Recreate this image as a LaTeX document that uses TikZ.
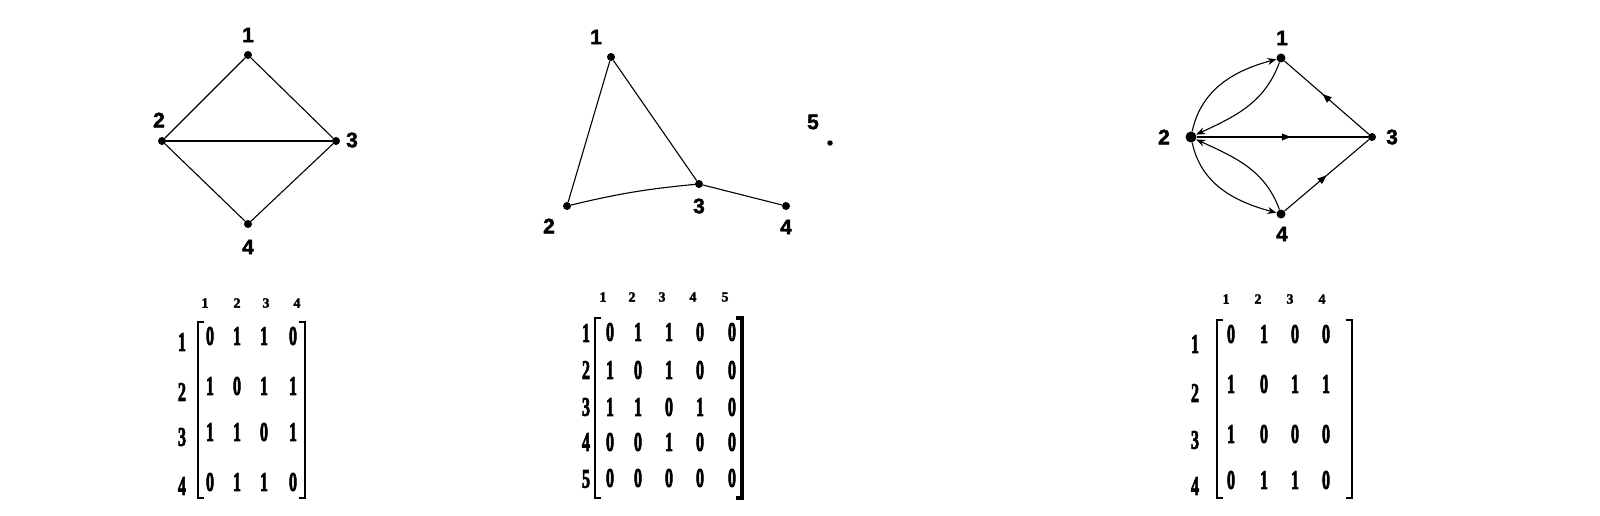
\documentclass[tikz,border=0pt]{standalone}
\usepackage{fontspec}
\usepackage{graphicx}
\setmainfont{Liberation Serif}
\newfontfamily\lblfont[BoldFeatures={FakeBold=2}]{Liberation Sans}
\newfontfamily\matfont[BoldFeatures={FakeBold=3}]{Liberation Serif}
\newfontfamily\hdrfont[BoldFeatures={FakeBold=2}]{Liberation Serif}
\usetikzlibrary{arrows.meta,decorations.markings}
\newcommand{\mynarrow}[1]{\scalebox{0.6}[1]{#1}}
\begin{document}
\begin{tikzpicture}[x=1pt,y=-1pt,
  dot/.style={circle,fill=black,inner sep=0pt,minimum size=8pt},
  smalldot/.style={circle,fill=black,inner sep=0pt,minimum size=5.5pt},
  vlabel/.style={font=\lblfont\bfseries\fontsize{21}{21}\selectfont,inner sep=0pt},
  edge/.style={line width=1.1pt,black},
  tip/.style={-{Stealth[length=9pt,width=7pt]}},
  midarrow/.style={postaction={decorate},decoration={markings,mark=at position #1 with {\arrow{Triangle[length=9pt,width=7pt]}}}},
  hdr/.style={font=\hdrfont\bfseries\fontsize{14}{14}\selectfont,inner sep=0pt},
  ent/.style={font=\matfont\bfseries\fontsize{27}{27}\selectfont,inner sep=0pt},
  brk/.style={line width=2.5pt}]
\useasboundingbox (0,0) rectangle (1600,516);

% ---------- Graph 1 ----------
\node[dot] (a1) at (248,55) {};
\node[dot] (a2) at (162,141) {};
\node[dot] (a3) at (336,141) {};
\node[dot] (a4) at (248,224) {};
\node[vlabel] (la1) at (248,35) {1};
\node[vlabel] (la2) at (159,120) {2};
\node[vlabel] (la3) at (352,140) {3};
\node[vlabel] (la4) at (248,247) {4};
\draw[edge] (a1) -- (a2);
\draw[edge] (a1) -- (a3);
\draw[edge] (a2) -- (a3);
\draw[edge] (a2) -- (a4);
\draw[edge] (a3) -- (a4);

% ---------- Graph 2 ----------
\node[dot] (b1) at (611,57) {};
\node[dot] (b2) at (567,206) {};
\node[dot] (b3) at (699,184) {};
\node[dot] (b4) at (786,206) {};
\node[smalldot] (b5) at (830,143) {};
\node[vlabel] (lb1) at (596,37) {1};
\node[vlabel] (lb2) at (549,226) {2};
\node[vlabel] (lb3) at (699,206) {3};
\node[vlabel] (lb4) at (786,227) {4};
\node[vlabel] (lb5) at (813,122) {5};
\draw[edge] (b1) -- (b2);
\draw[edge] (b1) -- (b3);
\draw[edge] (b2) to[bend left=4] (b3);
\draw[edge] (b3) -- (b4);

% ---------- Graph 3 ----------
\node[dot,minimum size=9pt] (c1) at (1281,58) {};
\node[dot,minimum size=11pt] (c2) at (1191,137) {};
\node[dot] (c3) at (1372,137) {};
\node[dot,minimum size=9pt] (c4) at (1281,214) {};
\node[vlabel] (lc1) at (1282,38) {1};
\node[vlabel] (lc2) at (1164,137) {2};
\node[vlabel] (lc3) at (1392,137) {3};
\node[vlabel] (lc4) at (1282,234) {4};
\draw[edge,midarrow=0.55] (c2) -- (c3);
\draw[edge,midarrow=0.55] (c3) -- (c1);
\draw[edge,midarrow=0.5] (c4) -- (c3);
\draw[edge,tip] (c2) to[out=78,in=195] (c1);
\draw[edge,tip] (c1) to[out=250,in=25] (c2);
\draw[edge,tip] (c2) to[out=-78,in=165] (c4);
\draw[edge,tip] (c4) to[out=110,in=-25] (c2);

% ---------- Matrix 1 ----------
\foreach \c/\x in {1/205,2/237,3/266,4/297}
  \node[hdr] (mAh\c) at (\x,303) {\c};
\foreach \r/\y in {1/342,2/392,3/437,4/486}
  \node[ent] (mAr\r) at (182,\y) {\mynarrow{\r}};
\foreach \y/\vals [count=\r] in {336/{0,1,1,0},386/{1,0,1,1},432/{1,1,0,1},482/{0,1,1,0}}{
  \foreach \v [count=\c] in \vals {
    \pgfmathsetmacro\xx{{210,237,264,293}[\c-1]}
    \node[ent] (mA-\r-\c) at (\xx,\y) {\mynarrow{\v}};
  }
}
\draw[brk] (204,322) -- (198,322) -- (198,498) -- (204,498);
\draw[brk] (299,322) -- (305,322) -- (305,498) -- (299,498);

% ---------- Matrix 2 ----------
\foreach \c/\x in {1/603,2/632,3/662,4/693,5/725}
  \node[hdr] (mBh\c) at (\x,297) {\c};
\foreach \r/\y in {1/333,2/370,3/407,4/442,5/479}
  \node[ent] (mBr\r) at (586,\y) {\mynarrow{\r}};
\foreach \y/\vals [count=\r] in {332/{0,1,1,0,0},370/{1,0,1,0,0},407/{1,1,0,1,0},442/{0,0,1,0,0},478/{0,0,0,0,0}}{
  \foreach \v [count=\c] in \vals {
    \pgfmathsetmacro\xx{{610,638,669,700,732}[\c-1]}
    \node[ent] (mB-\r-\c) at (\xx,\y) {\mynarrow{\v}};
  }
}
\draw[brk] (601,318) -- (595,318) -- (595,498) -- (601,498);
\draw[brk,line width=3.5pt] (736,318) -- (742,318) -- (742,498) -- (736,498);

% ---------- Matrix 3 ----------
\foreach \c/\x in {1/1226,2/1258,3/1290,4/1322}
  \node[hdr] (mCh\c) at (\x,299) {\c};
\foreach \r/\y in {1/344,2/393,3/440,4/486}
  \node[ent] (mCr\r) at (1195,\y) {\mynarrow{\r}};
\foreach \y/\vals [count=\r] in {334/{0,1,0,0},384/{1,0,1,1},434/{1,0,0,0},480/{0,1,1,0}}{
  \foreach \v [count=\c] in \vals {
    \pgfmathsetmacro\xx{{1231,1264,1295,1326}[\c-1]}
    \node[ent] (mC-\r-\c) at (\xx,\y) {\mynarrow{\v}};
  }
}
\draw[brk] (1223,320) -- (1217,320) -- (1217,498) -- (1223,498);
\draw[brk] (1346,320) -- (1352,320) -- (1352,498) -- (1346,498);
\end{tikzpicture}
\end{document}
